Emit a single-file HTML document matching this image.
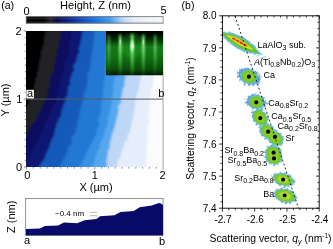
<!DOCTYPE html>
<html><head><meta charset="utf-8"><title>Figure</title>
<style>
html,body{margin:0;padding:0;background:#fff;}
body{width:333px;height:249px;overflow:hidden;}
svg{display:block;font-family:"Liberation Sans",Arial,sans-serif;}
text{fill:#000;}
</style></head><body>
<svg width="333" height="249" viewBox="0 0 333 249">
<defs>
<linearGradient id="cb" x1="0" x2="1" y1="0" y2="0">
<stop offset="0" stop-color="#000"/><stop offset="0.13" stop-color="#000"/><stop offset="0.18" stop-color="#20202a"/>
<stop offset="0.22" stop-color="#04083c"/><stop offset="0.25" stop-color="#050e5a"/><stop offset="0.32" stop-color="#082382"/><stop offset="0.39" stop-color="#0c41af"/>
<stop offset="0.47" stop-color="#125fd0"/><stop offset="0.54" stop-color="#1e7de1"/><stop offset="0.61" stop-color="#3c96eb"/>
<stop offset="0.66" stop-color="#78b9f2"/><stop offset="0.71" stop-color="#bed7f5"/><stop offset="0.79" stop-color="#e6eef8"/><stop offset="1" stop-color="#f8f8fa"/>
</linearGradient>
<linearGradient id="cbg" x1="0" x2="0" y1="0" y2="1">
<stop offset="0" stop-color="#000" stop-opacity="0.16"/><stop offset="0.3" stop-color="#fff" stop-opacity="0.12"/><stop offset="0.6" stop-color="#fff" stop-opacity="0"/><stop offset="1" stop-color="#000" stop-opacity="0.22"/>
</linearGradient>
<clipPath id="afmclip"><rect x="26" y="31" width="137.4" height="136.1"/></clipPath>
<filter id="bl" x="-5%" y="-5%" width="110%" height="110%"><feTurbulence type="fractalNoise" baseFrequency="0.05 0.22" numOctaves="2" seed="11" result="n"/><feDisplacementMap in="SourceGraphic" in2="n" scale="3.5" xChannelSelector="R" yChannelSelector="G" result="d"/><feGaussianBlur in="d" stdDeviation="0.9"/></filter>
<filter id="rag" x="-40%" y="-40%" width="180%" height="180%"><feTurbulence type="fractalNoise" baseFrequency="0.45" numOctaves="2" seed="3" result="n"/><feDisplacementMap in="SourceGraphic" in2="n" scale="8" xChannelSelector="R" yChannelSelector="G"/></filter>
<filter id="rag3" x="-40%" y="-40%" width="180%" height="180%"><feTurbulence type="fractalNoise" baseFrequency="0.3" numOctaves="1" seed="5" result="n"/><feDisplacementMap in="SourceGraphic" in2="n" scale="1.5" xChannelSelector="R" yChannelSelector="G"/></filter>
<filter id="bl3" x="-40%" y="-40%" width="180%" height="180%"><feGaussianBlur stdDeviation="0.8"/></filter>
<filter id="rag2" x="-40%" y="-40%" width="180%" height="180%"><feTurbulence type="fractalNoise" baseFrequency="0.4" numOctaves="2" seed="8" result="n"/><feDisplacementMap in="SourceGraphic" in2="n" scale="3" xChannelSelector="R" yChannelSelector="G"/></filter>
<linearGradient id="rh" x1="0" x2="0" y1="0" y2="1">
<stop offset="0" stop-color="#000"/><stop offset="0.08" stop-color="#000c01"/><stop offset="0.18" stop-color="#032a04"/><stop offset="0.36" stop-color="#137a16"/><stop offset="0.6" stop-color="#107012"/><stop offset="0.85" stop-color="#0a4c0b"/><stop offset="0.95" stop-color="#042a05"/><stop offset="1" stop-color="#011002"/>
</linearGradient>
<linearGradient id="stk" x1="0" x2="0" y1="0" y2="1">
<stop offset="0" stop-color="#7dff7d" stop-opacity="0"/><stop offset="0.1" stop-color="#9dff9d" stop-opacity="0.85"/><stop offset="0.35" stop-color="#b4ffb4" stop-opacity="1"/><stop offset="0.7" stop-color="#66ee66" stop-opacity="0.6"/><stop offset="1" stop-color="#30c030" stop-opacity="0.15"/>
</linearGradient>
<radialGradient id="glow"><stop offset="0" stop-color="#fff" stop-opacity="1"/><stop offset="0.4" stop-color="#d0ffd0" stop-opacity="0.8"/><stop offset="1" stop-color="#60ff60" stop-opacity="0"/></radialGradient>
<clipPath id="rhclip"><rect x="106" y="31" width="57.4" height="44.5"/></clipPath>
<filter id="bl2" x="-50%" y="-10%" width="200%" height="120%"><feGaussianBlur stdDeviation="0.9 0.5"/></filter>
<clipPath id="pclip"><rect x="222.4" y="15.8" width="96.8" height="192.4"/></clipPath>
</defs>
<rect width="333" height="249" fill="#fff"/>

<!-- panel (a) -->
<text x="1.2" y="9.2" font-size="10.6">(a)</text>
<text x="95.5" y="8.6" font-size="11.1" text-anchor="middle">Height, Z (nm)</text>
<text x="26.5" y="14.6" font-size="11" text-anchor="middle">0</text>
<text x="163.5" y="14.1" font-size="11" text-anchor="middle">5</text>
<rect x="26" y="16.2" width="137.3" height="7.2" fill="url(#cb)"/>
<rect x="26" y="16.2" width="137.3" height="7.2" fill="url(#cbg)"/>
<rect x="26.2" y="16.5" width="136.9" height="6.7" fill="none" stroke="#808080" stroke-width="0.8"/>

<g clip-path="url(#afmclip)"><g filter="url(#bl)">
<rect x="20" y="25" width="150" height="150" fill="#000"/>
<polygon points="-1.0,24 -1.0,31 -1.0,55 -1.0,78 -1.0,99 -1.0,126 -1.0,136 -1.0,150 -1.0,167 -1.0,174 -1.6,174 0.5,167 5.5,150 12.5,136 17.5,126 32.5,99 38.0,78 42.5,55 47.3,31 48.7,24" fill="#000000"/>
<polygon points="47.2,24 45.8,31 41.0,55 36.5,78 31.0,99 16.0,126 11.0,136 4.0,150 -1.0,167 -3.1,174 6.4,174 10.5,167 20.5,150 28.0,136 33.5,126 48.0,99 53.0,78 58.5,55 62.5,31 63.7,24" fill="#202028"/>
<polygon points="62.2,24 61.0,31 57.0,55 51.5,78 46.5,99 32.0,126 26.5,136 19.0,150 9.0,167 4.9,174 21.6,174 25.5,167 35.0,150 41.5,136 46.0,126 58.0,99 62.5,78 69.0,55 73.5,31 74.8,24" fill="#080e5f"/>
<polygon points="73.3,24 72.0,31 67.5,55 61.0,78 56.5,99 44.5,126 40.0,136 33.5,150 24.0,167 20.1,174 36.8,174 40.5,167 49.5,150 54.5,136 58.0,126 67.5,99 72.0,78 79.5,55 84.2,31 85.6,24" fill="#0a1672"/>
<polygon points="84.1,24 82.7,31 78.0,55 70.5,78 66.0,99 56.5,126 53.0,136 48.0,150 39.0,167 35.3,174 58.2,174 61.5,167 69.5,150 75.0,136 78.0,126 84.5,99 89.5,78 93.5,55 96.1,31 96.9,24" fill="#195ab9"/>
<polygon points="95.4,24 94.6,31 92.0,55 88.0,78 83.0,99 76.5,126 73.5,136 68.0,150 60.0,167 56.7,174 78.2,174 81.5,167 89.5,150 96.5,136 99.5,126 103.5,99 106.3,78 108.5,55 110.5,31 111.1,24" fill="#2378d2"/>
<polygon points="109.6,24 109.0,31 107.0,55 104.8,78 102.0,99 98.0,126 95.0,136 88.0,150 80.0,167 76.7,174 92.4,174 94.5,167 99.5,150 105.0,136 108.5,126 113.5,99 116.5,78 118.5,55 120.5,31 121.1,24" fill="#3791e4"/>
<polygon points="119.6,24 119.0,31 117.0,55 115.0,78 112.0,99 107.0,126 103.5,136 98.0,150 93.0,167 90.9,174 105.8,174 107.0,167 110.0,150 113.0,136 116.5,126 122.5,99 126.8,78 128.5,55 130.5,31 131.1,24" fill="#55a8ee"/>
<polygon points="129.6,24 129.0,31 127.0,55 125.3,78 121.0,99 115.0,126 111.5,136 108.5,150 105.5,167 104.3,174 115.7,174 118.0,167 123.5,150 129.5,136 132.5,126 137.5,99 142.5,78 144.5,55 146.5,31 147.1,24" fill="#bed7f6"/>
<polygon points="145.6,24 145.0,31 143.0,55 141.0,78 136.0,99 131.0,126 128.0,136 122.0,150 116.5,167 114.2,174 148.5,174 148.5,167 148.5,150 149.0,136 149.5,126 151.5,99 155.5,78 158.5,55 160.5,31 161.1,24" fill="#e6eefb"/>
<polygon points="159.6,24 159.0,31 157.0,55 154.0,78 150.0,99 148.0,126 147.5,136 147.0,150 147.0,167 147.0,174 200.0,174 200.0,167 200.0,150 200.0,136 200.0,126 200.0,99 200.0,78 200.0,55 200.0,31 200.0,24" fill="#fcfcfe"/>
</g></g>
<!-- RHEED inset -->
<g clip-path="url(#rhclip)">
<rect x="106" y="31" width="57.4" height="44.5" fill="url(#rh)"/>
<g filter="url(#bl2)">
<rect x="108.0" y="33" width="1.8" height="42" fill="url(#stk)" opacity="0.5"/>
<rect x="119.1" y="32.5" width="2.2" height="43" fill="url(#stk)"/>
<rect x="130.8" y="32" width="2.8" height="44" fill="url(#stk)"/>
<rect x="142.3" y="32.5" width="2.2" height="43" fill="url(#stk)"/>
<rect x="154.2" y="33" width="2.0" height="42" fill="url(#stk)" opacity="0.7"/>
</g>
<ellipse cx="132.2" cy="45" rx="12" ry="12" fill="#40d040" opacity="0.18" filter="url(#bl3)"/>
<ellipse cx="132.2" cy="46" rx="3" ry="8" fill="url(#glow)"/>
<ellipse cx="120.2" cy="42" rx="1.5" ry="5" fill="url(#glow)" opacity="0.6"/>
<ellipse cx="143.4" cy="42" rx="1.5" ry="5" fill="url(#glow)" opacity="0.6"/>
</g>
<!-- line a-b and border -->
<line x1="26" y1="99.1" x2="163" y2="99.1" stroke="#5a5a5f" stroke-width="1"/>
<line x1="163.1" y1="75.5" x2="163.1" y2="167" stroke="#909090" stroke-width="0.8"/>
<rect x="26.3" y="89.8" width="7.6" height="8.7" fill="#fff"/>
<text x="27" y="97.3" font-size="11">a</text>
<text x="158.2" y="96.6" font-size="11">b</text>
<g stroke="#444" stroke-width="0.6">
<line x1="23.8" y1="31.0" x2="26" y2="31.0"/>
<line x1="26.5" y1="167" x2="26.5" y2="169.6"/>
<line x1="24.7" y1="37.8" x2="26" y2="37.8"/>
<line x1="33.3" y1="167" x2="33.3" y2="168.7"/>
<line x1="24.7" y1="44.6" x2="26" y2="44.6"/>
<line x1="40.2" y1="167" x2="40.2" y2="168.7"/>
<line x1="24.7" y1="51.4" x2="26" y2="51.4"/>
<line x1="47.0" y1="167" x2="47.0" y2="168.7"/>
<line x1="24.7" y1="58.2" x2="26" y2="58.2"/>
<line x1="53.8" y1="167" x2="53.8" y2="168.7"/>
<line x1="24.7" y1="65.0" x2="26" y2="65.0"/>
<line x1="60.6" y1="167" x2="60.6" y2="168.7"/>
<line x1="24.7" y1="71.8" x2="26" y2="71.8"/>
<line x1="67.5" y1="167" x2="67.5" y2="168.7"/>
<line x1="24.7" y1="78.6" x2="26" y2="78.6"/>
<line x1="74.3" y1="167" x2="74.3" y2="168.7"/>
<line x1="24.7" y1="85.4" x2="26" y2="85.4"/>
<line x1="81.1" y1="167" x2="81.1" y2="168.7"/>
<line x1="24.7" y1="92.2" x2="26" y2="92.2"/>
<line x1="88.0" y1="167" x2="88.0" y2="168.7"/>
<line x1="23.8" y1="99.0" x2="26" y2="99.0"/>
<line x1="94.8" y1="167" x2="94.8" y2="169.6"/>
<line x1="24.7" y1="105.8" x2="26" y2="105.8"/>
<line x1="101.6" y1="167" x2="101.6" y2="168.7"/>
<line x1="24.7" y1="112.6" x2="26" y2="112.6"/>
<line x1="108.5" y1="167" x2="108.5" y2="168.7"/>
<line x1="24.7" y1="119.4" x2="26" y2="119.4"/>
<line x1="115.3" y1="167" x2="115.3" y2="168.7"/>
<line x1="24.7" y1="126.2" x2="26" y2="126.2"/>
<line x1="122.1" y1="167" x2="122.1" y2="168.7"/>
<line x1="24.7" y1="133.0" x2="26" y2="133.0"/>
<line x1="128.9" y1="167" x2="128.9" y2="168.7"/>
<line x1="24.7" y1="139.8" x2="26" y2="139.8"/>
<line x1="135.8" y1="167" x2="135.8" y2="168.7"/>
<line x1="24.7" y1="146.6" x2="26" y2="146.6"/>
<line x1="142.6" y1="167" x2="142.6" y2="168.7"/>
<line x1="24.7" y1="153.4" x2="26" y2="153.4"/>
<line x1="149.4" y1="167" x2="149.4" y2="168.7"/>
<line x1="24.7" y1="160.2" x2="26" y2="160.2"/>
<line x1="156.3" y1="167" x2="156.3" y2="168.7"/>
<line x1="23.8" y1="167.0" x2="26" y2="167.0"/>
<line x1="163.1" y1="167" x2="163.1" y2="169.6"/>
</g>
<text x="21.7" y="35.2" font-size="11" text-anchor="end">2</text>
<text x="22.3" y="103.2" font-size="11" text-anchor="end">1</text>
<text x="22.2" y="170.6" font-size="11" text-anchor="end">0</text>
<text x="27.2" y="179.3" font-size="11" text-anchor="middle">0</text>
<text x="94.9" y="179.3" font-size="11" text-anchor="middle">1</text>
<text x="162.6" y="179.3" font-size="11" text-anchor="middle">2</text>
<text x="96" y="190.9" font-size="11" text-anchor="middle">X (µm)</text>
<text transform="translate(9.4 100) rotate(-90)" font-size="11" text-anchor="middle">Y (µm)</text>

<!-- profile -->
<rect x="25.7" y="198.5" width="137.3" height="36.9" fill="#fff" stroke="#666" stroke-width="0.7"/>
<path d="M26,235.3 L26,229 L40,228.6 L44.8,225.9 L58,225.5 L64,222.6 L77,223.3 L84.5,220.2 L96.5,219 L100,216.3 L114.4,215.3 L120.6,212 L133.7,211.1 L139.7,207.3 L151.7,205.6 L158.9,203.1 L161,203.4 L163,205 L163,235.3 Z" fill="#09096a"/>
<text x="55" y="216.3" font-size="8">~0.4 nm</text>
<line x1="90" y1="212.3" x2="97.2" y2="212.3" stroke="#999" stroke-width="0.7"/>
<line x1="90" y1="215.7" x2="97.2" y2="215.7" stroke="#999" stroke-width="0.7"/>
<text x="24" y="244.3" font-size="11">a</text>
<text x="159" y="245.4" font-size="11">b</text>
<text transform="translate(15.1 216.8) rotate(-90)" font-size="11" text-anchor="middle">Z (nm)</text>

<!-- panel (b) -->
<text x="181.6" y="9.1" font-size="10.5">(b)</text>
<g clip-path="url(#pclip)">
<!-- LAO spot -->
<g transform="translate(240.3 42.9) rotate(29)">
<path d="M-23.5,0 Q0,-12.4 23.5,0 Q0,12.4 -23.5,0Z" fill="#5c9ae6" filter="url(#rag2)"/>
<path d="M-22.5,0 Q0,-10.8 22.5,0 Q0,10.8 -22.5,0Z" fill="#63d0d8" filter="url(#rag2)"/>
<path d="M-21.5,0 Q0,-9.2 21.5,0 Q0,9.2 -21.5,0Z" fill="#66c22a" filter="url(#rag3)"/>
<g transform="translate(-0.8 -0.4)"><path d="M-16,0 Q0,-5.2 16,0 Q0,5.2 -16,0Z" fill="#d8e428"/>
<path d="M-11.5,0 Q0,-3.2 11.5,0 Q0,3.2 -11.5,0Z" fill="#f0a020"/>
<line x1="-8.4" y1="0" x2="7.8" y2="0" stroke="#e42a20" stroke-width="1.6" stroke-dasharray="3 1.3"/></g>
</g>
<g stroke="#7fd4c8" stroke-width="0.8">
<line x1="256.5" y1="56" x2="262.8" y2="54.1"/><line x1="259.9" y1="58.4" x2="265.6" y2="56.5"/>
</g>
<ellipse transform="translate(248.9,76.7) rotate(20)" rx="11.4" ry="8.2" fill="#5c9ae6" filter="url(#rag)"/>
<ellipse transform="translate(256.2,102.0) rotate(15)" rx="10.4" ry="7.5" fill="#5c9ae6" filter="url(#rag)"/>
<ellipse transform="translate(260.0,117.6) rotate(50)" rx="9.3" ry="7.0" fill="#5c9ae6" filter="url(#rag)"/>
<ellipse transform="translate(267.6,131.6) rotate(42)" rx="8.7" ry="6.7" fill="#5c9ae6" filter="url(#rag)"/>
<ellipse transform="translate(275.6,138.4) rotate(42)" rx="8.9" ry="6.8" fill="#5c9ae6" filter="url(#rag)"/>
<ellipse transform="translate(273.6,152.8) rotate(20)" rx="8.6" ry="7.0" fill="#5c9ae6" filter="url(#rag)"/>
<ellipse transform="translate(273.8,157.6) rotate(20)" rx="8.6" ry="7.0" fill="#5c9ae6" filter="url(#rag)"/>
<ellipse transform="translate(283.4,179.6) rotate(15)" rx="11.0" ry="6.2" fill="#5c9ae6" filter="url(#rag)"/>
<ellipse transform="translate(285.0,195.7) rotate(15)" rx="11.2" ry="7.0" fill="#5c9ae6" filter="url(#rag)"/>
<ellipse transform="translate(248.9,76.7) rotate(20)" rx="8.4" ry="6.7" fill="#63c8e0" filter="url(#rag2)"/>
<ellipse transform="translate(256.2,102.0) rotate(15)" rx="7.4" ry="6.4" fill="#63c8e0" filter="url(#rag2)"/>
<ellipse transform="translate(260.0,117.6) rotate(50)" rx="8.8" ry="6.5" fill="#63c8e0" filter="url(#rag2)"/>
<ellipse transform="translate(267.6,131.6) rotate(42)" rx="8.2" ry="6.2" fill="#63c8e0" filter="url(#rag2)"/>
<ellipse transform="translate(275.6,138.4) rotate(42)" rx="8.4" ry="6.3" fill="#63c8e0" filter="url(#rag2)"/>
<ellipse transform="translate(273.6,152.8) rotate(20)" rx="8.1" ry="6.5" fill="#63c8e0" filter="url(#rag2)"/>
<ellipse transform="translate(273.8,157.6) rotate(20)" rx="8.1" ry="6.5" fill="#63c8e0" filter="url(#rag2)"/>
<ellipse transform="translate(283.4,179.6) rotate(15)" rx="10.4" ry="5.7" fill="#63c8e0" filter="url(#rag2)"/>
<ellipse transform="translate(285.0,195.7) rotate(15)" rx="10.6" ry="6.5" fill="#63c8e0" filter="url(#rag2)"/>
<ellipse transform="translate(248.9,76.7) rotate(20)" rx="7.8" ry="6.2" fill="#74c62e" filter="url(#rag3)"/>
<ellipse transform="translate(256.2,102.0) rotate(15)" rx="6.8" ry="5.9" fill="#74c62e" filter="url(#rag3)"/>
<ellipse transform="translate(260.0,117.6) rotate(50)" rx="8.2" ry="6.0" fill="#74c62e" filter="url(#rag3)"/>
<ellipse transform="translate(267.6,131.6) rotate(42)" rx="7.6" ry="5.7" fill="#74c62e" filter="url(#rag3)"/>
<ellipse transform="translate(275.6,138.4) rotate(42)" rx="7.8" ry="5.8" fill="#74c62e" filter="url(#rag3)"/>
<ellipse transform="translate(273.6,152.8) rotate(20)" rx="7.5" ry="6.0" fill="#74c62e" filter="url(#rag3)"/>
<ellipse transform="translate(273.8,157.6) rotate(20)" rx="7.5" ry="6.0" fill="#74c62e" filter="url(#rag3)"/>
<ellipse transform="translate(283.4,179.6) rotate(15)" rx="9.8" ry="5.2" fill="#74c62e" filter="url(#rag3)"/>
<ellipse transform="translate(285.0,195.7) rotate(15)" rx="10.0" ry="6.0" fill="#74c62e" filter="url(#rag3)"/>
<ellipse transform="translate(248.9,76.7) rotate(20)" rx="4.6" ry="3.3" fill="#96d22c" filter="url(#bl3)"/>
<ellipse transform="translate(256.2,102.0) rotate(15)" rx="4.0" ry="3.1" fill="#96d22c" filter="url(#bl3)"/>
<ellipse transform="translate(260.0,117.6) rotate(50)" rx="4.8" ry="3.2" fill="#96d22c" filter="url(#bl3)"/>
<ellipse transform="translate(267.6,131.6) rotate(42)" rx="4.4" ry="3.0" fill="#96d22c" filter="url(#bl3)"/>
<ellipse transform="translate(275.6,138.4) rotate(42)" rx="4.6" ry="3.1" fill="#96d22c" filter="url(#bl3)"/>
<ellipse transform="translate(273.6,152.8) rotate(20)" rx="4.4" ry="3.2" fill="#96d22c" filter="url(#bl3)"/>
<ellipse transform="translate(273.8,157.6) rotate(20)" rx="4.4" ry="3.2" fill="#96d22c" filter="url(#bl3)"/>
<ellipse transform="translate(283.4,179.6) rotate(15)" rx="5.8" ry="2.8" fill="#c4e030" filter="url(#bl3)"/>
<ellipse transform="translate(285.0,195.7) rotate(15)" rx="5.9" ry="3.2" fill="#c4e030" filter="url(#bl3)"/>
</g>
<line x1="235.0" y1="16" x2="298.4" y2="208" stroke="#000" stroke-width="0.85" stroke-dasharray="1.9 2.3"/>
<circle cx="248.9" cy="76.7" r="2.1" fill="#000"/>
<circle cx="256.2" cy="102.3" r="2.1" fill="#000"/>
<circle cx="260.3" cy="118.1" r="2.1" fill="#000"/>
<circle cx="268.1" cy="131.7" r="2.1" fill="#000"/>
<circle cx="274.9" cy="136.9" r="2.1" fill="#000"/>
<circle cx="273.6" cy="152.7" r="2.1" fill="#000"/>
<circle cx="274.0" cy="158.4" r="2.1" fill="#000"/>
<circle cx="283.1" cy="179.6" r="2.1" fill="#000"/>
<circle cx="284.6" cy="195.5" r="2.1" fill="#000"/>
<rect x="222.4" y="15.8" width="96.8" height="192.4" fill="none" stroke="#000" stroke-width="0.9"/>
<g stroke="#000" stroke-width="0.8">
<line x1="219.0" y1="15.80" x2="222.4" y2="15.80"/>
<line x1="319.2" y1="15.80" x2="316.1" y2="15.80"/>
<line x1="220.5" y1="22.21" x2="222.4" y2="22.21"/>
<line x1="319.2" y1="22.21" x2="317.5" y2="22.21"/>
<line x1="220.5" y1="28.63" x2="222.4" y2="28.63"/>
<line x1="319.2" y1="28.63" x2="317.5" y2="28.63"/>
<line x1="220.5" y1="35.04" x2="222.4" y2="35.04"/>
<line x1="319.2" y1="35.04" x2="317.5" y2="35.04"/>
<line x1="220.5" y1="41.45" x2="222.4" y2="41.45"/>
<line x1="319.2" y1="41.45" x2="317.5" y2="41.45"/>
<line x1="219.0" y1="47.87" x2="222.4" y2="47.87"/>
<line x1="319.2" y1="47.87" x2="316.1" y2="47.87"/>
<line x1="220.5" y1="54.28" x2="222.4" y2="54.28"/>
<line x1="319.2" y1="54.28" x2="317.5" y2="54.28"/>
<line x1="220.5" y1="60.69" x2="222.4" y2="60.69"/>
<line x1="319.2" y1="60.69" x2="317.5" y2="60.69"/>
<line x1="220.5" y1="67.11" x2="222.4" y2="67.11"/>
<line x1="319.2" y1="67.11" x2="317.5" y2="67.11"/>
<line x1="220.5" y1="73.52" x2="222.4" y2="73.52"/>
<line x1="319.2" y1="73.52" x2="317.5" y2="73.52"/>
<line x1="219.0" y1="79.93" x2="222.4" y2="79.93"/>
<line x1="319.2" y1="79.93" x2="316.1" y2="79.93"/>
<line x1="220.5" y1="86.35" x2="222.4" y2="86.35"/>
<line x1="319.2" y1="86.35" x2="317.5" y2="86.35"/>
<line x1="220.5" y1="92.76" x2="222.4" y2="92.76"/>
<line x1="319.2" y1="92.76" x2="317.5" y2="92.76"/>
<line x1="220.5" y1="99.17" x2="222.4" y2="99.17"/>
<line x1="319.2" y1="99.17" x2="317.5" y2="99.17"/>
<line x1="220.5" y1="105.59" x2="222.4" y2="105.59"/>
<line x1="319.2" y1="105.59" x2="317.5" y2="105.59"/>
<line x1="219.0" y1="112.00" x2="222.4" y2="112.00"/>
<line x1="319.2" y1="112.00" x2="316.1" y2="112.00"/>
<line x1="220.5" y1="118.41" x2="222.4" y2="118.41"/>
<line x1="319.2" y1="118.41" x2="317.5" y2="118.41"/>
<line x1="220.5" y1="124.83" x2="222.4" y2="124.83"/>
<line x1="319.2" y1="124.83" x2="317.5" y2="124.83"/>
<line x1="220.5" y1="131.24" x2="222.4" y2="131.24"/>
<line x1="319.2" y1="131.24" x2="317.5" y2="131.24"/>
<line x1="220.5" y1="137.65" x2="222.4" y2="137.65"/>
<line x1="319.2" y1="137.65" x2="317.5" y2="137.65"/>
<line x1="219.0" y1="144.07" x2="222.4" y2="144.07"/>
<line x1="319.2" y1="144.07" x2="316.1" y2="144.07"/>
<line x1="220.5" y1="150.48" x2="222.4" y2="150.48"/>
<line x1="319.2" y1="150.48" x2="317.5" y2="150.48"/>
<line x1="220.5" y1="156.89" x2="222.4" y2="156.89"/>
<line x1="319.2" y1="156.89" x2="317.5" y2="156.89"/>
<line x1="220.5" y1="163.31" x2="222.4" y2="163.31"/>
<line x1="319.2" y1="163.31" x2="317.5" y2="163.31"/>
<line x1="220.5" y1="169.72" x2="222.4" y2="169.72"/>
<line x1="319.2" y1="169.72" x2="317.5" y2="169.72"/>
<line x1="219.0" y1="176.13" x2="222.4" y2="176.13"/>
<line x1="319.2" y1="176.13" x2="316.1" y2="176.13"/>
<line x1="220.5" y1="182.55" x2="222.4" y2="182.55"/>
<line x1="319.2" y1="182.55" x2="317.5" y2="182.55"/>
<line x1="220.5" y1="188.96" x2="222.4" y2="188.96"/>
<line x1="319.2" y1="188.96" x2="317.5" y2="188.96"/>
<line x1="220.5" y1="195.37" x2="222.4" y2="195.37"/>
<line x1="319.2" y1="195.37" x2="317.5" y2="195.37"/>
<line x1="220.5" y1="201.79" x2="222.4" y2="201.79"/>
<line x1="319.2" y1="201.79" x2="317.5" y2="201.79"/>
<line x1="219.0" y1="208.20" x2="222.4" y2="208.20"/>
<line x1="319.2" y1="208.20" x2="316.1" y2="208.20"/>
<line x1="222.40" y1="208.2" x2="222.40" y2="211.6"/>
<line x1="222.40" y1="15.8" x2="222.40" y2="18.9"/>
<line x1="228.85" y1="208.2" x2="228.85" y2="210.1"/>
<line x1="228.85" y1="15.8" x2="228.85" y2="17.5"/>
<line x1="235.31" y1="208.2" x2="235.31" y2="210.1"/>
<line x1="235.31" y1="15.8" x2="235.31" y2="17.5"/>
<line x1="241.76" y1="208.2" x2="241.76" y2="210.1"/>
<line x1="241.76" y1="15.8" x2="241.76" y2="17.5"/>
<line x1="248.21" y1="208.2" x2="248.21" y2="210.1"/>
<line x1="248.21" y1="15.8" x2="248.21" y2="17.5"/>
<line x1="254.67" y1="208.2" x2="254.67" y2="211.6"/>
<line x1="254.67" y1="15.8" x2="254.67" y2="18.9"/>
<line x1="261.12" y1="208.2" x2="261.12" y2="210.1"/>
<line x1="261.12" y1="15.8" x2="261.12" y2="17.5"/>
<line x1="267.57" y1="208.2" x2="267.57" y2="210.1"/>
<line x1="267.57" y1="15.8" x2="267.57" y2="17.5"/>
<line x1="274.03" y1="208.2" x2="274.03" y2="210.1"/>
<line x1="274.03" y1="15.8" x2="274.03" y2="17.5"/>
<line x1="280.48" y1="208.2" x2="280.48" y2="210.1"/>
<line x1="280.48" y1="15.8" x2="280.48" y2="17.5"/>
<line x1="286.93" y1="208.2" x2="286.93" y2="211.6"/>
<line x1="286.93" y1="15.8" x2="286.93" y2="18.9"/>
<line x1="293.39" y1="208.2" x2="293.39" y2="210.1"/>
<line x1="293.39" y1="15.8" x2="293.39" y2="17.5"/>
<line x1="299.84" y1="208.2" x2="299.84" y2="210.1"/>
<line x1="299.84" y1="15.8" x2="299.84" y2="17.5"/>
<line x1="306.29" y1="208.2" x2="306.29" y2="210.1"/>
<line x1="306.29" y1="15.8" x2="306.29" y2="17.5"/>
<line x1="312.75" y1="208.2" x2="312.75" y2="210.1"/>
<line x1="312.75" y1="15.8" x2="312.75" y2="17.5"/>
<line x1="319.20" y1="208.2" x2="319.20" y2="211.6"/>
<line x1="319.20" y1="15.8" x2="319.20" y2="18.9"/>
</g>
<g font-size="10">
<text x="216.6" y="19.4" text-anchor="end">8.0</text>
<text x="216.6" y="51.5" text-anchor="end">7.9</text>
<text x="216.6" y="83.5" text-anchor="end">7.8</text>
<text x="216.6" y="115.6" text-anchor="end">7.7</text>
<text x="216.6" y="147.7" text-anchor="end">7.6</text>
<text x="216.6" y="179.7" text-anchor="end">7.5</text>
<text x="216.6" y="211.8" text-anchor="end">7.4</text>
<text x="223.0" y="222.7" text-anchor="middle">-2.7</text>
<text x="255.3" y="222.7" text-anchor="middle">-2.6</text>
<text x="287.5" y="222.7" text-anchor="middle">-2.5</text>
<text x="319.8" y="222.7" text-anchor="middle">-2.4</text>
</g>
<g font-size="9">
<text x="257.5" y="48.1">LaAlO<tspan font-size="7" dy="2.2">3</tspan><tspan dy="-2.2"> sub.</tspan></text>
<text x="254" y="65"><tspan font-style="italic">A</tspan>(Ti<tspan font-size="7" dy="2.2">0.8</tspan><tspan dy="-2.2">Nb</tspan><tspan font-size="7" dy="2.2">0.2</tspan><tspan dy="-2.2">)O</tspan><tspan font-size="7" dy="2.2">3</tspan></text>
<text x="263.6" y="78.2">Ca</text>
<text x="268.2" y="105.6">Ca<tspan font-size="7" dy="2.2">0.8</tspan><tspan dy="-2.2">Sr</tspan><tspan font-size="7" dy="2.2">0.2</tspan></text>
<text x="271.2" y="119.3">Ca<tspan font-size="7" dy="2.2">0.5</tspan><tspan dy="-2.2">Sr</tspan><tspan font-size="7" dy="2.2">0.5</tspan></text>
<text x="277.6" y="129.1">Ca<tspan font-size="7" dy="2.2">0.2</tspan><tspan dy="-2.2">Sr</tspan><tspan font-size="7" dy="2.2">0.8</tspan></text>
<text x="285.5" y="140.8">Sr</text>
<text x="224.5" y="153.4">Sr<tspan font-size="7" dy="2.2">0.8</tspan><tspan dy="-2.2">Ba</tspan><tspan font-size="7" dy="2.2">0.2</tspan></text>
<text x="227.6" y="163.4">Sr<tspan font-size="7" dy="2.2">0.5</tspan><tspan dy="-2.2">Ba</tspan><tspan font-size="7" dy="2.2">0.5</tspan></text>
<text x="234.2" y="181.2">Sr<tspan font-size="7" dy="2.2">0.2</tspan><tspan dy="-2.2">Ba</tspan><tspan font-size="7" dy="2.2">0.8</tspan></text>
<text x="263.3" y="197.4">Ba</text>
</g>
<text x="209.5" y="242" font-size="10.35">Scattering vector, <tspan font-style="italic">q</tspan><tspan font-style="italic" font-size="7" dy="2.2">y</tspan><tspan dy="-2.2"> (nm</tspan><tspan font-size="6.5" dy="-4">-1</tspan><tspan dy="4">)</tspan></text>
<text transform="translate(193.7 118.5) rotate(-90)" font-size="10.4" text-anchor="middle">Scattering vecotr, <tspan font-style="italic">q</tspan><tspan font-style="italic" font-size="7" dy="2.2">z</tspan><tspan dy="-2.2"> (nm</tspan><tspan font-size="6.5" dy="-4">-1</tspan><tspan dy="4">)</tspan></text>
</svg>
</body></html>
